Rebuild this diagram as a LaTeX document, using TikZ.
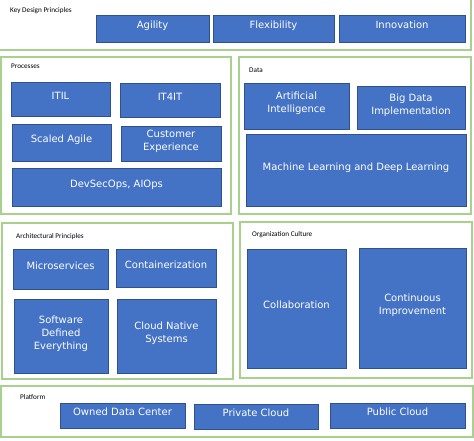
\documentclass[tikz,border=0pt]{standalone}
\usepackage{fontspec}
\setmainfont{DejaVu Sans}
\newfontfamily\labfont{Carlito}
\definecolor{boxblue}{HTML}{4472C4}
\definecolor{boxedge}{HTML}{2F528F}
\definecolor{grpgreen}{HTML}{A9D18E}
\tikzset{
  blk/.style={draw=boxedge, line width=0.6pt, fill=boxblue, text=white, inner sep=1pt, align=center, text depth=7pt, font=\fontsize{10}{13}\selectfont},
  grp/.style={draw=grpgreen, line width=1.3pt, fill=white, inner sep=0pt},
  grplabel/.style={anchor=north west, inner sep=0pt, font=\labfont\fontsize{7.2}{8.5}\selectfont}
}
\begin{document}
\begin{tikzpicture}[x=1pt,y=-1pt]
\clip (0,0) rectangle (474,440);
\useasboundingbox (0,0) rectangle (474,440);
\fill[white] (0,0) rectangle (474,440);
% Key Design Principles
\node[grp, minimum width=473pt, minimum height=52pt] (kdp) at (234.5,24) {};
\node[grplabel] (kdpl) at (10,7.5) {Key Design Principles};
\node[blk, minimum width=113pt, minimum height=27pt] (agility) at (152.5,28.5) {Agility};
\node[blk, minimum width=121pt, minimum height=27pt] (flex) at (273.5,28.5) {Flexibility};
\node[blk, minimum width=126pt, minimum height=27pt] (innov) at (402,28.5) {Innovation};
% Processes
\node[grp, minimum width=230pt, minimum height=157pt] (proc) at (116,135.5) {};
\node[grplabel] (procl) at (11,63.5) {Processes};
\node[blk, minimum width=99pt, minimum height=34pt] (itil) at (60.5,99) {ITIL};
\node[blk, minimum width=100pt, minimum height=34pt] (it4it) at (170,100) {IT4IT};
\node[blk, minimum width=99pt, minimum height=37pt] (safe) at (61.5,142.5) {Scaled Agile};
\node[blk, minimum width=100pt, minimum height=35pt] (cx) at (171,143.5) {Customer\\Experience};
\node[blk, minimum width=209pt, minimum height=38pt] (devsec) at (116.5,187) {DevSecOps, AIOps};
% Data
\node[grp, minimum width=232pt, minimum height=157pt] (data) at (355,135.5) {};
\node[grplabel] (datal) at (249,67.5) {Data};
\node[blk, minimum width=105pt, minimum height=46pt] (ai) at (296.5,106) {Artificial\\Intelligence};
\node[blk, minimum width=108pt, minimum height=43pt] (bigdata) at (411,107.5) {Big Data\\Implementation};
\node[blk, minimum width=220pt, minimum height=72pt] (ml) at (356,170) {Machine Learning and Deep Learning};
% Architectural Principles
\node[grp, minimum width=231pt, minimum height=156pt] (arch) at (117.5,301) {};
\node[grplabel] (archl) at (16,233.5) {Architectural Principles};
\node[blk, minimum width=95pt, minimum height=40pt] (micro) at (60.5,269) {Microservices};
\node[blk, minimum width=100pt, minimum height=38pt] (contain) at (166,268) {Containerization};
\node[blk, minimum width=94pt, minimum height=74pt] (sde) at (61,336) {Software\\Defined\\Everything};
\node[blk, minimum width=99pt, minimum height=74pt] (cns) at (166.5,336) {Cloud Native\\Systems};
% Organization Culture
\node[grp, minimum width=232pt, minimum height=156pt] (org) at (356,300) {};
\node[grplabel] (orgl) at (252,231.5) {Organization Culture};
\node[blk, minimum width=99pt, minimum height=119pt] (collab) at (296.5,308.5) {Collaboration};
\node[blk, minimum width=107pt, minimum height=120pt] (contimp) at (412.5,308) {Continuous\\Improvement};
% Platform
\node[grp, minimum width=472pt, minimum height=51pt] (plat) at (237,411.5) {};
\node[grplabel] (platl) at (20,394.5) {Platform};
\node[blk, minimum width=125pt, minimum height=25pt] (owned) at (122.5,415.5) {Owned Data Center};
\node[blk, minimum width=124pt, minimum height=25pt] (private) at (256,416.5) {Private Cloud};
\node[blk, minimum width=135pt, minimum height=25pt] (public) at (397.5,415.5) {Public Cloud};
\end{tikzpicture}
\end{document}
